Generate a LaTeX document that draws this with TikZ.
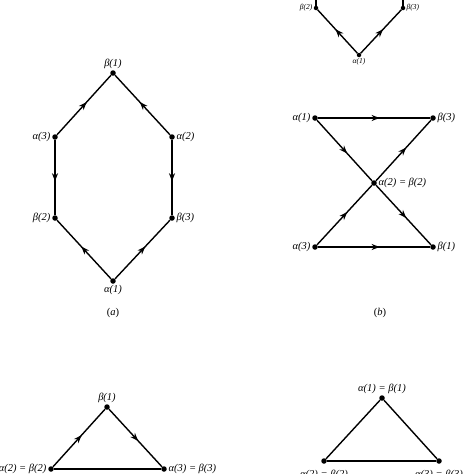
\documentclass[tikz,border=0pt]{standalone}
\usepackage{fontspec}
\setmainfont{Liberation Serif}
\usetikzlibrary{positioning}
\usetikzlibrary{arrows.meta}
\usetikzlibrary{decorations.markings}

\tikzset{
  pt/.style={circle,fill,inner sep=0pt,minimum size=5.5pt},
  lbl/.style={font=\itshape\fontsize{10.5}{12}\selectfont,inner sep=1.5pt},
  sml/.style={font=\itshape\fontsize{7.5}{9}\selectfont,inner sep=1pt},
  edge/.style={line width=1.4pt},
  midarr/.style={edge,postaction={decorate},
    decoration={markings,mark=at position 0.55 with {\arrow{Stealth[length=8pt,width=6pt,inset=2.5pt]}}}}
}

\begin{document}
\begin{tikzpicture}[x=1pt,y=-1pt]
\clip (0,0) rectangle (474,474);

% (a) hexagon
\node[pt,label={[lbl]above:β(1)}] (hb1) at (113,73) {};
\node[pt,label={[lbl]left:α(3)}] (ha3) at (55,137) {};
\node[pt,label={[lbl]right:α(2)}] (ha2) at (172,137) {};
\node[pt,label={[lbl]left:β(2)}] (hb2) at (55,218) {};
\node[pt,label={[lbl]right:β(3)}] (hb3) at (172,218) {};
\node[pt,label={[lbl]below:α(1)}] (ha1) at (113,281) {};
\draw[midarr] (ha3)--(hb1);
\draw[midarr] (ha2)--(hb1);
\draw[midarr] (ha3)--(hb2);
\draw[midarr] (ha2)--(hb3);
\draw[midarr] (ha1)--(hb2);
\draw[midarr] (ha1)--(hb3);
\node[lbl] (capa) at (113,313) {\upshape(\textit{a})};

% small hexagon, cut at the top
\node[pt,minimum size=4.5pt,label={[sml]left:β(2)}] (sb2) at (316,8) {};
\node[pt,minimum size=4.5pt,label={[sml]right:β(3)}] (sb3) at (403,8) {};
\node[pt,minimum size=4.5pt,label={[sml]below:α(1)}] (sa1) at (359,55) {};
\coordinate (sb2t) at (316,-20);
\coordinate (sb3t) at (403,-20);
\draw[midarr] (sa1)--(sb2);
\draw[midarr] (sa1)--(sb3);
\draw[edge] (sb2)--(sb2t);
\draw[edge] (sb3)--(sb3t);

% (b) crossing
\node[pt,label={[lbl]left:α(1)}] (xa1) at (315,118) {};
\node[pt,label={[lbl]right:β(3)}] (xb3) at (433,118) {};
\node[pt,label={[lbl]right:α(2) = β(2)}] (xc) at (374,183) {};
\node[pt,label={[lbl]left:α(3)}] (xa3) at (315,247) {};
\node[pt,label={[lbl]right:β(1)}] (xb1) at (433,247) {};
\draw[midarr] (xa1)--(xb3);
\draw[midarr] (xa1)--(xc);
\draw[midarr] (xc)--(xb1);
\draw[midarr] (xa3)--(xc);
\draw[midarr] (xc)--(xb3);
\draw[midarr] (xa3)--(xb1);
\node[lbl] (capb) at (380,313) {\upshape(\textit{b})};

% (c) triangle with arrows
\node[pt,label={[lbl]above:β(1)}] (tb1) at (107,407) {};
\node[pt,label={[lbl]left:α(2) = β(2)}] (tl) at (51,469) {};
\node[pt,label={[lbl]right:α(3) = β(3)}] (tr) at (164,469) {};
\draw[midarr] (tl)--(tb1);
\draw[midarr] (tb1)--(tr);
\draw[edge] (tl)--(tr);

% (d) plain triangle
\node[pt,label={[lbl]above:α(1) = β(1)}] (dt) at (382,398) {};
\node[pt,label={[lbl,label distance=4pt]below:α(2) = β(2)}] (dl) at (324,461) {};
\node[pt,label={[lbl,label distance=4pt]below:α(3) = β(3)}] (dr) at (439,461) {};
\draw[edge] (dt)--(dl);
\draw[edge] (dt)--(dr);
\draw[edge] (dl)--(dr);

\end{tikzpicture}
\end{document}
